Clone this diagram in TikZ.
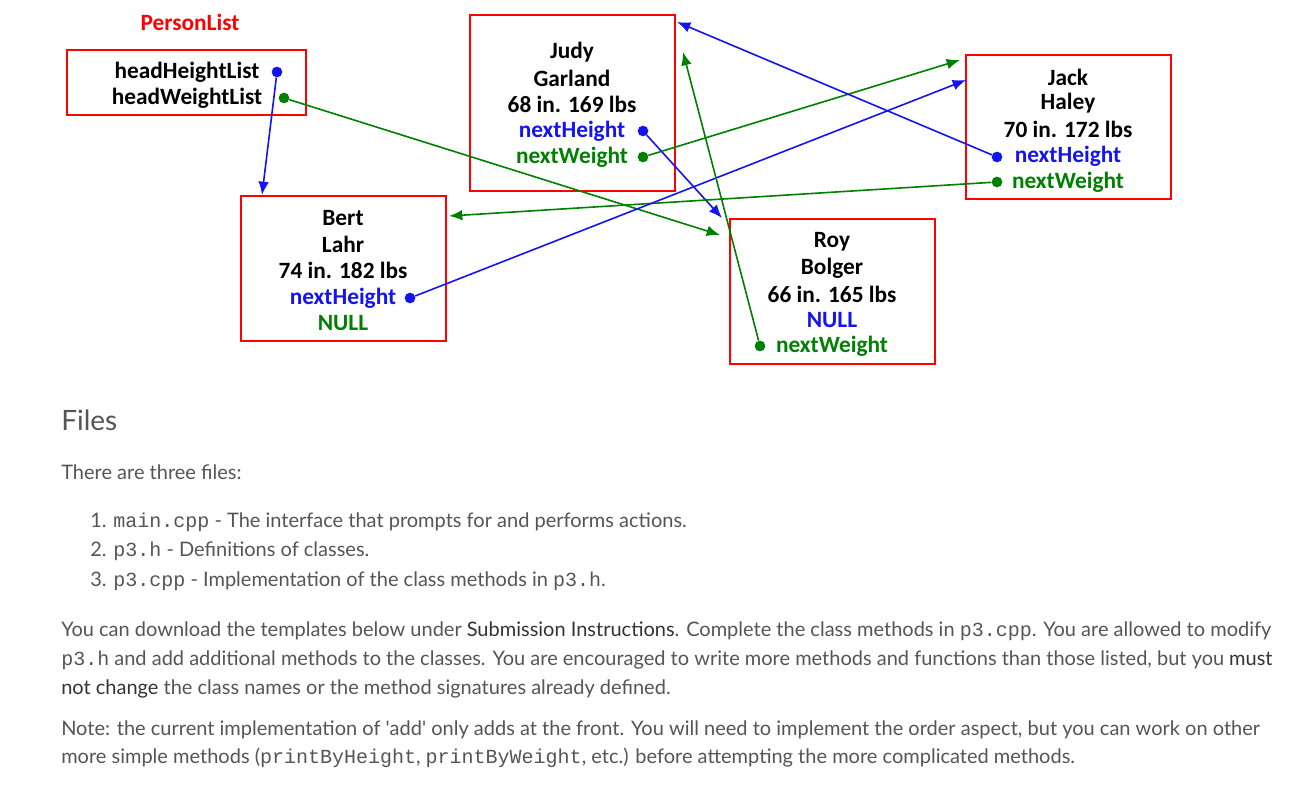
\documentclass[tikz,border=0pt]{standalone}
\usepackage{fontspec}
\setmainfont{Lato}
\newfontfamily\dia{Carlito}
\newfontfamily\mono{Liberation Mono}
\usetikzlibrary{arrows.meta}
\begin{document}
\begin{tikzpicture}[x=0.75pt,y=-0.75pt,
  box/.style={draw=red,line width=1.2pt},
  lbl/.style={font=\dia\bfseries\fontsize{17.5}{19}\selectfont,inner sep=0pt},
  dot/.style={circle,fill,inner sep=0pt,minimum size=8pt},
  arr/.style={-{Latex[length=10pt,width=8pt]},line width=1.2pt},
  bl/.style={color={rgb,255:red,20;green,20;blue,240}},
  gr/.style={color={rgb,255:red,0;green,128;blue,0}},
  body/.style={anchor=base west,inner sep=0pt,text={rgb,255:red,85;green,85;blue,85},font=\fontsize{15}{17}\selectfont}]
\useasboundingbox[fill=white] (0,0) rectangle (1314,789);
\draw[box] (67,50) rectangle (306,115);
\draw[box] (470,15) rectangle (675,191);
\draw[box] (966,55) rectangle (1171,199);
\draw[box] (241,196) rectangle (446,341);
\draw[box] (730,219) rectangle (935,364);
\node[lbl,red] (pl) at (190,22) {PersonList};
\node[lbl] (hh) at (187,72) {headHeightList};
\node[lbl] (hw) at (187,98) {headWeightList};
\node[dot,bl] (hhd) at (277,72) {};
\node[dot,gr] (hwd) at (284,98) {};
\node[lbl] (j1) at (572,52) {Judy};
\node[lbl] (j2) at (572,78) {Garland};
\node[lbl] (j3) at (572,104) {68 in. 169 lbs};
\node[lbl,bl] (j4) at (572,131) {nextHeight};
\node[lbl,gr] (j5) at (572,157) {nextWeight};
\node[dot,bl] (jh) at (643,131) {};
\node[dot,gr] (jw) at (643,157) {};
\node[lbl] (k1) at (1068,77) {Jack};
\node[lbl] (k2) at (1068,103) {Haley};
\node[lbl] (k3) at (1068,129) {70 in. 172 lbs};
\node[lbl,bl] (k4) at (1068,156) {nextHeight};
\node[lbl,gr] (k5) at (1068,182) {nextWeight};
\node[dot,bl] (kh) at (997,157) {};
\node[dot,gr] (kw) at (997,182) {};
\node[lbl] (b1) at (343,218) {Bert};
\node[lbl] (b2) at (343,244) {Lahr};
\node[lbl] (b3) at (343,270) {74 in. 182 lbs};
\node[lbl,bl] (b4) at (343,298) {nextHeight};
\node[lbl,gr] (b5) at (343,323) {NULL};
\node[dot,bl] (bh) at (410,298) {};
\node[lbl] (r1) at (832,242) {Roy};
\node[lbl] (r2) at (832,268) {Bolger};
\node[lbl] (r3) at (832,294) {66 in. 165 lbs};
\node[lbl,bl] (r4) at (832,320) {NULL};
\node[lbl,gr] (r5) at (832,346) {nextWeight};
\node[dot,gr] (rw) at (760,346) {};
\coordinate (tB) at (262,195);
\coordinate (tR1) at (720,235);
\coordinate (tR2) at (722,218);
\coordinate (tK1) at (960,60);
\coordinate (tJ1) at (677,22);
\coordinate (tB2) at (449,216);
\coordinate (tK2) at (966,80);
\coordinate (tJ2) at (683,52);
\draw[arr,bl] (hhd) -- (tB);
\draw[arr,gr] (hwd) -- (tR1);
\draw[arr,bl] (jh) -- (tR2);
\draw[arr,gr] (jw) -- (tK1);
\draw[arr,bl] (kh) -- (tJ1);
\draw[arr,gr] (kw) -- (tB2);
\draw[arr,bl] (bh) -- (tK2);
\draw[arr,gr] (rw) -- (tJ2);
\node[body,font=\fontsize{21}{23}\selectfont] (f) at (61,430) {Files};
\node[body] (t0) at (61,479) {There are three files:};
\node[body] (t1) at (90,527) {1. {\mono main.cpp} - The interface that prompts for and performs actions.};
\node[body] (t2) at (90,556) {2. {\mono p3.h} - Definitions of classes.};
\node[body] (t3) at (90,586) {3. {\mono p3.cpp} - Implementation of the class methods in {\mono p3.h}.};
\node[body] (t4) at (61,636) {You can download the templates below under {\color{black!80}Submission Instructions}. Complete the class methods in {\mono p3.cpp}. You are allowed to modify};
\node[body] (t5) at (61,665) {{\mono p3.h} and add additional methods to the classes. You are encouraged to write more methods and functions than those listed, but you {\color{black!80}must}};
\node[body] (t6) at (61,694) {{\color{black!80}not change} the class names or the method signatures already defined.};
\node[body] (t7) at (61,735) {Note: the current implementation of \textquotesingle add\textquotesingle\ only adds at the front. You will need to implement the order aspect, but you can work on other};
\node[body] (t8) at (61,763) {more simple methods ({\mono printByHeight}, {\mono printByWeight}, etc.) before attempting the more complicated methods.};
\end{tikzpicture}
\end{document}
